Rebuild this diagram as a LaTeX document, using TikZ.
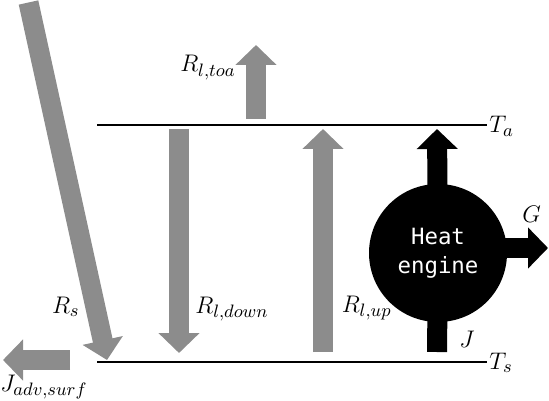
\documentclass[tikz,border=0pt]{standalone}
\usepackage{fontspec}
\usetikzlibrary{arrows.meta}
\newfontfamily\enginefont{DejaVu Sans Mono}
\definecolor{fluxgray}{RGB}{140,140,140}

\begin{document}
\begin{tikzpicture}[x=0.5pt,y=-0.5pt,
    flux/.style={line width=10pt,fluxgray,-{Triangle[length=10pt,width=20pt]}},
    work/.style={line width=10pt,black,-{Triangle[length=10pt,width=20pt]}},
    level/.style={line width=0.8pt},
    lbl/.style={inner sep=0pt,font=\fontsize{12.4}{15}\selectfont}]

    \useasboundingbox (0,0) rectangle (549,400);

    % levels
    \coordinate (ta1) at (97,125);
    \coordinate (ta2) at (487,125);
    \coordinate (ts1) at (97,362);
    \coordinate (ts2) at (487,362);
    \draw[level] (ta1) -- (ta2);
    \draw[level] (ts1) -- (ts2);
    \node[lbl, anchor=base west] (ta) at (489,133) {$T_a$};
    \node[lbl, anchor=base west] (ts) at (489,369) {$T_s$};

    % radiation
    \coordinate (rs1) at (28.5,2.5);
    \coordinate (rs2) at (107,360);
    \coordinate (toa1) at (256,119);
    \coordinate (toa2) at (256,45);
    \coordinate (down1) at (179,129);
    \coordinate (down2) at (179,353);
    \coordinate (up1) at (323,352);
    \coordinate (up2) at (323,129);
    \coordinate (adv1) at (70,360);
    \coordinate (adv2) at (3,360);
    \draw[flux] (rs1) -- (rs2);
    \draw[flux] (toa1) -- (toa2);
    \draw[flux] (down1) -- (down2);
    \draw[flux] (up1) -- (up2);
    \draw[flux] (adv1) -- (adv2);

    \node[lbl, anchor=base east] (rltoa) at (236,72) {$R_{l,toa}$};
    \node[lbl, anchor=base east] (rsl) at (80,313) {$R_s$};
    \node[lbl, anchor=base west] (rldown) at (195,313) {$R_{l,down}$};
    \node[lbl, anchor=base east] (rlup) at (392,312) {$R_{l,up}$};
    \node[lbl, anchor=base west] (jadv) at (0,391) {$J_{adv,surf}$};

    % heat engine
    \coordinate (jin) at (437,352);
    \coordinate (jout) at (437,129);
    \coordinate (gin) at (438,248);
    \coordinate (gout) at (548,248);
    \draw[line width=10pt] (jin) -- (438,253);
    \draw[work] (438,253) -- (jout);
    \draw[work] (gin) -- (gout);
    \node[circle, fill=black, minimum size=69pt, inner sep=0pt, text=white, align=center,
        font=\enginefont\fontsize{11.2}{14.5}\selectfont] (engine) at (438,253) {Heat\\engine};

    \node[lbl, anchor=base west] (j) at (459,347) {$J$};
    \node[lbl, anchor=base west] (g) at (522,222) {$G$};

\end{tikzpicture}
\end{document}
